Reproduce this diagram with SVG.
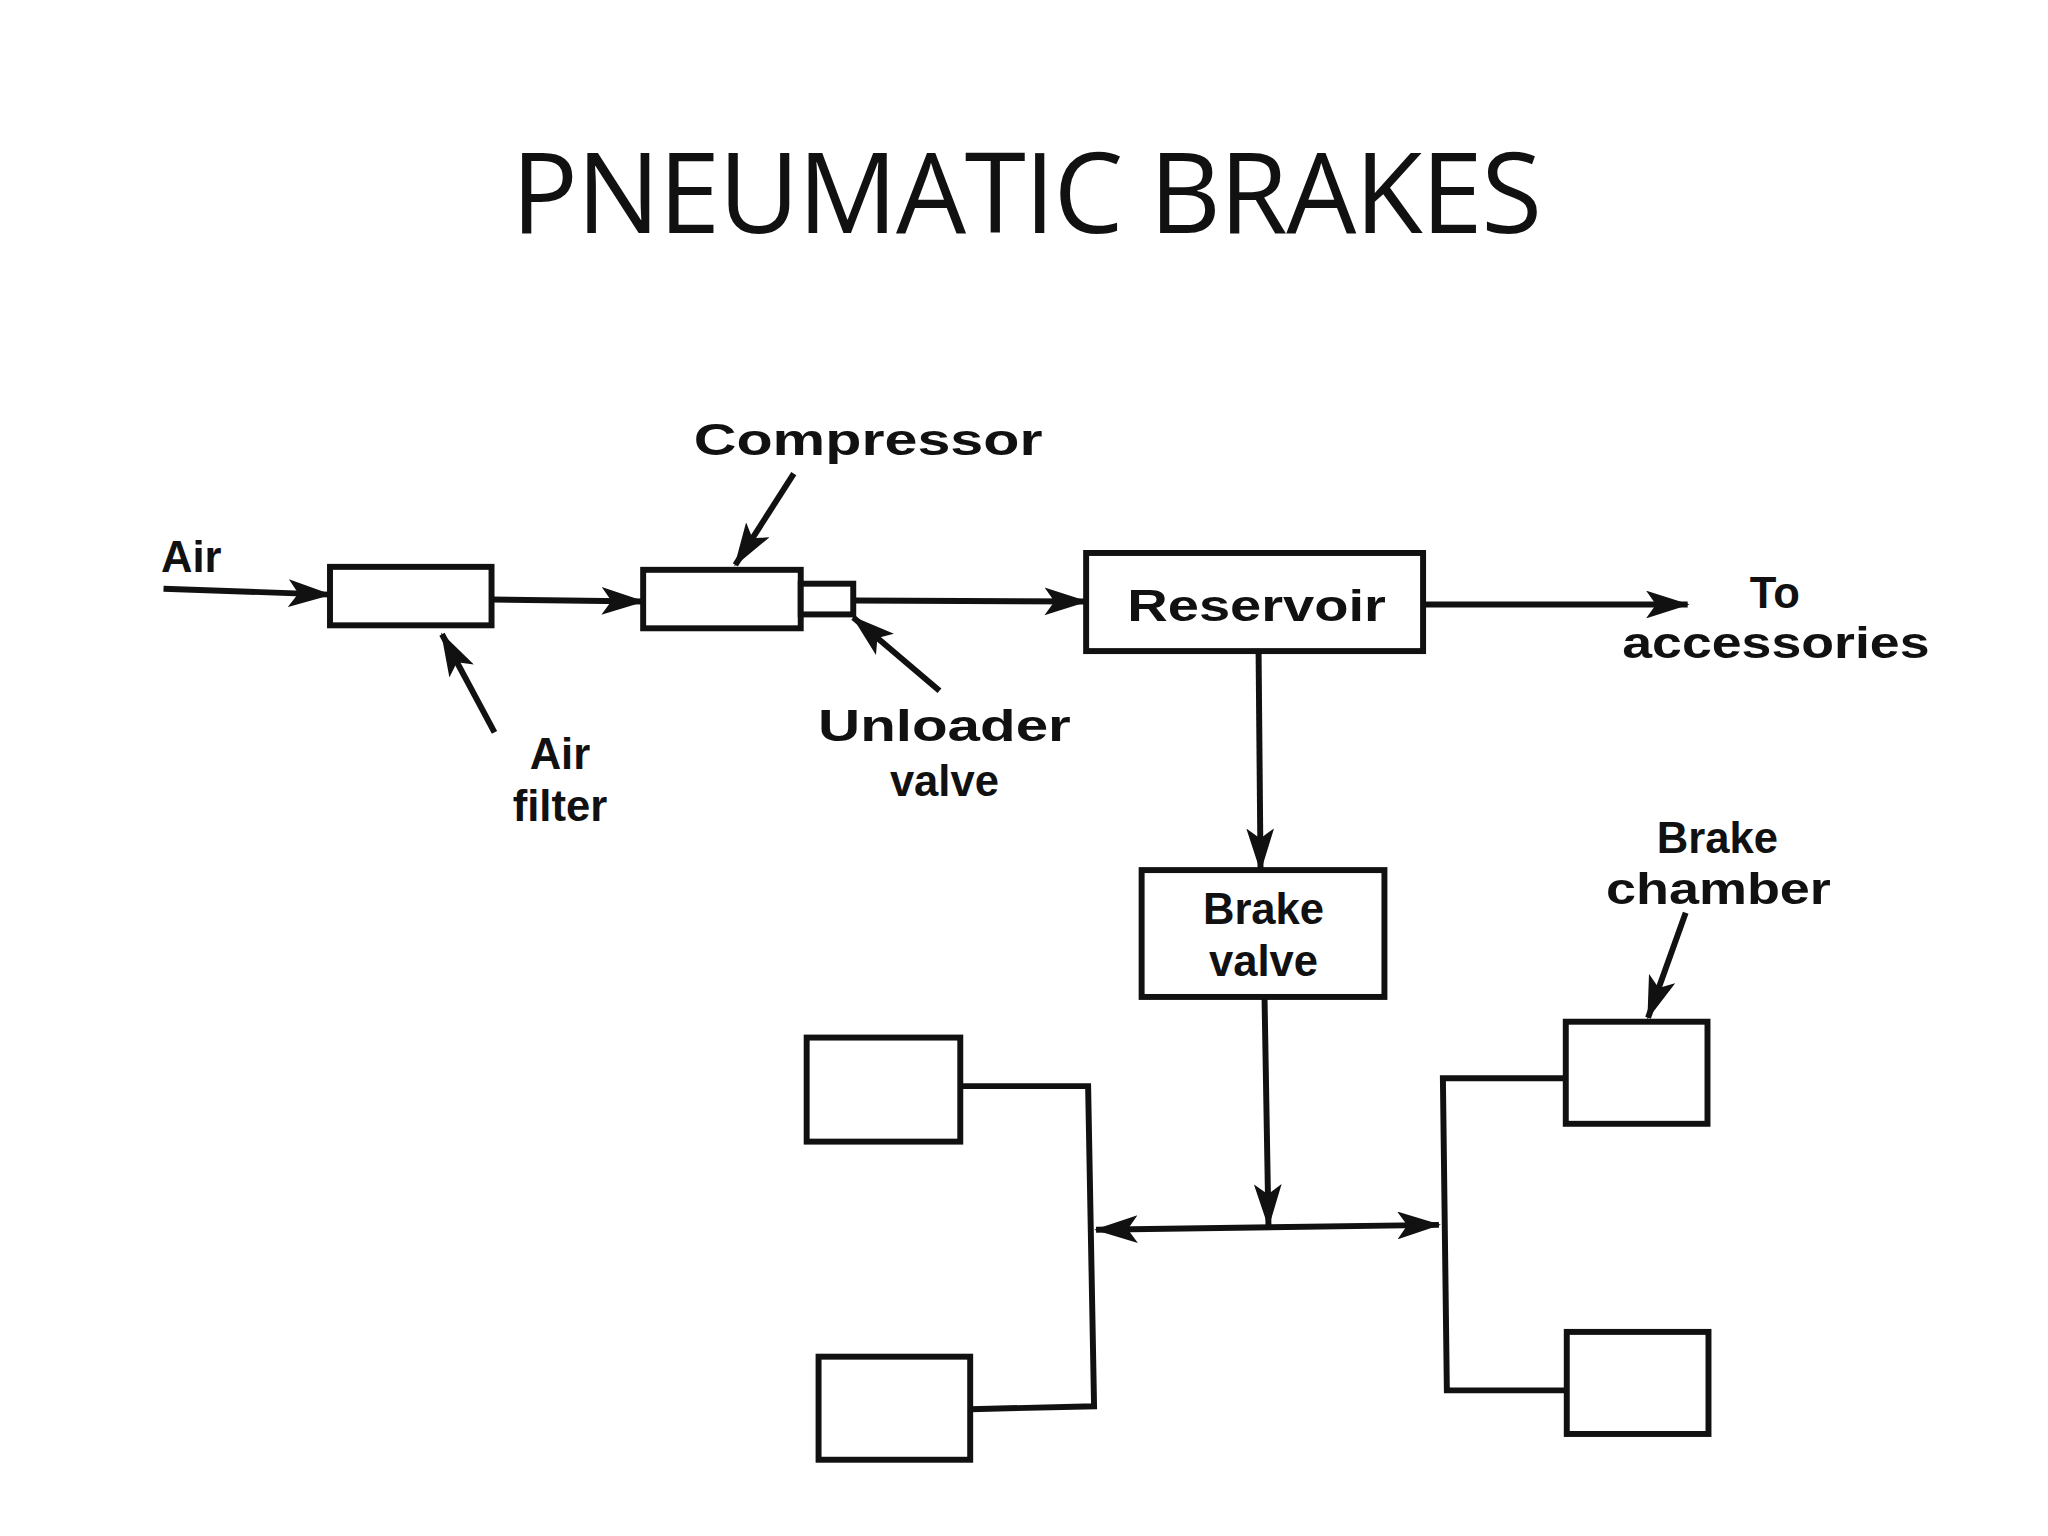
<svg xmlns="http://www.w3.org/2000/svg" width="2048" height="1536" viewBox="0 0 2048 1536">
<style>
.b{fill:#fff;stroke:#111;stroke-width:6}
.l{fill:none;stroke:#111;stroke-width:6}
.t{font-family:"Liberation Sans",Arial,sans-serif;font-weight:bold;font-size:44px;fill:#111;text-anchor:middle}
</style>
<defs>
<marker id="m" viewBox="0 0 44 28" refX="42" refY="14" markerWidth="44" markerHeight="28" markerUnits="userSpaceOnUse" orient="auto-start-reverse"><path d="M0,0 L44,14 L0,28 L10,14 Z" fill="#111"/></marker></defs>
<rect width="2048" height="1536" fill="#fff"/>
<g transform="scale(0.991)">
<text x="1036" y="235" font-family="'Open Sans','Noto Sans',sans-serif" font-size="112" fill="#111" text-anchor="middle" textLength="1040">PNEUMATIC BRAKES</text>
<g id="connectors">
<path class="l" d="M165,594 L333,600" marker-end="url(#m)"/>
<path class="l" d="M496,605 L649,607" marker-end="url(#m)"/>
<path class="l" d="M861,606 L1096,607" marker-end="url(#m)"/>
<path class="l" d="M1436,610 L1703,610" marker-end="url(#m)"/>
<path class="l" d="M1270,657 L1272,878" marker-end="url(#m)"/>
<path class="l" d="M1276,1006 L1280,1237" marker-end="url(#m)"/>
<path class="l" d="M1106,1241 L1452,1236" marker-start="url(#m)" marker-end="url(#m)"/>
<path class="l" d="M969,1096 L1098,1096 L1104,1419 L979,1422"/>
<path class="l" d="M1580,1088 L1456,1088 L1460,1403 L1581,1403"/>
<path class="l" d="M801,478 L742,570" marker-end="url(#m)"/>
<path class="l" d="M499,739 L446,640" marker-end="url(#m)"/>
<path class="l" d="M948,697 L861,623" marker-end="url(#m)"/>
<path class="l" d="M1701,921 L1663,1027" marker-end="url(#m)"/>
</g>
<g id="air"><text class="t" x="193" y="577">Air</text></g>
<g id="filter"><rect class="b" x="333" y="572" width="163" height="59"/><text class="t" x="565" y="776">Air</text><text class="t" x="565" y="828">filter</text></g>
<g id="compressor"><rect class="b" x="649" y="575" width="159" height="59"/><text class="t" x="876" y="459" textLength="352" lengthAdjust="spacingAndGlyphs">Compressor</text></g>
<g id="unloader"><rect class="b" x="808" y="589" width="53" height="31"/><text class="t" x="953" y="748" textLength="255" lengthAdjust="spacingAndGlyphs">Unloader</text><text class="t" x="953" y="803">valve</text></g>
<g id="reservoir"><rect class="b" x="1096" y="558" width="340" height="99"/><text class="t" x="1268" y="627" textLength="261" lengthAdjust="spacingAndGlyphs">Reservoir</text></g>
<g id="accessories"><text class="t" x="1791" y="614">To</text><text class="t" x="1792" y="664" textLength="310" lengthAdjust="spacingAndGlyphs">accessories</text></g>
<g id="brakevalve"><rect class="b" x="1152" y="878" width="245" height="128"/><text class="t" x="1275" y="932">Brake</text><text class="t" x="1275" y="985">valve</text></g>
<g id="chamberlabel"><text class="t" x="1733" y="861">Brake</text><text class="t" x="1734" y="912" textLength="227" lengthAdjust="spacingAndGlyphs">chamber</text></g>
<g id="c1"><rect class="b" x="814" y="1047" width="155" height="105"/></g>
<g id="c2"><rect class="b" x="826" y="1369" width="153" height="104"/></g>
<g id="c3"><rect class="b" x="1580" y="1031" width="143" height="103"/></g>
<g id="c4"><rect class="b" x="1581" y="1344" width="143" height="103"/></g>
</g>
</svg>
